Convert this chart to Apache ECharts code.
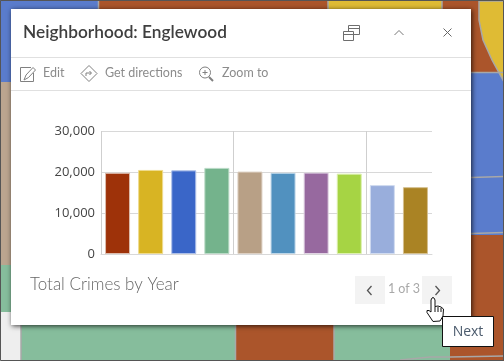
<!DOCTYPE html>
<html>
<head>
<meta charset="utf-8">
<title>Total Crimes by Year</title>
<script src="https://cdn.jsdelivr.net/npm/echarts@6/dist/echarts.min.js"></script>
<style>
  html, body { margin: 0; padding: 0; background: #fff; }
  #chart { width: 504px; height: 361px; }
</style>
</head>
<body>
<div id="chart"></div>
<script>
const categories = ['Year 1', 'Year 2', 'Year 3', 'Year 4', 'Year 5', 'Year 6', 'Year 7', 'Year 8', 'Year 9', 'Year 10']
const crimes = [19800, 20500, 20400, 21000, 20100, 19800, 19850, 19600, 16800, 16300]
const barColors = ['#9e3209', '#d8b423', '#3a66c8', '#74b38c', '#b8a086', '#5191bf', '#97699f', '#a6d444', '#99aedc', '#aa8324']
const barBorders = ['#dcbcae', '#efdb8c', '#adbfe8', '#b9dac6', '#dccfc2', '#bcd6e8', '#e0d2e3', '#dcf0ae', '#d0dbf0', '#d4bf8e']
const yTicks = [0, 10000, 20000, 30000]

const BLUE = '#5a7ccc', ORANGE = '#ab552b', YELLOW = '#dfbb34', GREEN = '#86bd9c', TAN = '#bba58f', EDGE = '#a8a8a8'

function box(x, y, width, height, fill, z) {
  return {type: 'rect', shape: {x, y, width, height}, style: {fill}, z: z}
}
function label(x, y, text, font, fill, align) {
  return {type: 'text', x, y, z: 20, style: {text, font, fill, align: align || 'left', verticalAlign: 'middle'}}
}
function stroke(points, color, width, z) {
  return {type: 'polyline', z: z || 20, shape: {points}, style: {fill: null, stroke: color, lineWidth: width || 1}}
}
function fillShape(points, fill, line, z) {
  return {type: 'polygon', z: z, shape: {points}, style: {fill, stroke: line, lineWidth: line === EDGE ? 1.5 : 1}}
}

// map behind the popup
const mapParts = [
  box(0, 0, 504, 361, GREEN, -30),
  box(0, 0, 98, 82, BLUE, -30),
  box(98, 0, 230, 30, ORANGE, -30),
  box(328, 0, 114, 30, YELLOW, -30),
  box(442, 0, 62, 73, ORANGE, -30),
  box(471, 73, 33, 162, BLUE, -30),
  box(471, 235, 33, 126, ORANGE, -30),
  box(0, 82, 11, 183, TAN, -30),
  box(0, 312, 21, 49, '#eeeeee', -30),
  box(235, 320, 99, 41, ORANGE, -30),
  box(450, 320, 54, 41, ORANGE, -30),
  fillShape([[479, 1], [479, 20], [483, 40], [492, 60], [503, 80], [504, 72], [504, 1]], YELLOW, EDGE, -29),
  stroke([[471, 72.5], [504, 72.5]], EDGE, 1.5, -28),
  stroke([[471, 177.5], [504, 176.5]], EDGE, 1.5, -28),
  stroke([[471, 233.5], [504, 232.5]], EDGE, 1.5, -28),
  stroke([[98.5, 0], [98.5, 9]], EDGE, 1.5, -28),
  stroke([[328, 0], [328, 9]], EDGE, 1.5, -28),
  stroke([[442, 0], [442, 9]], EDGE, 1.5, -28),
  stroke([[21, 325], [21, 361]], EDGE, 1.5, -28),
  stroke([[235.5, 325], [235.5, 361]], EDGE, 1.5, -28),
  stroke([[334, 325], [334, 361]], EDGE, 1.5, -28),
  stroke([[400, 360], [430, 357], [450, 357], [504, 356]], EDGE, 1.5, -28)
]

const popup = [
  {type: 'rect', z: -10, shape: {x: 11, y: 9, width: 460, height: 316},
    style: {fill: '#fff', shadowBlur: 5, shadowColor: 'rgba(0,0,0,0.75)', shadowOffsetX: 1, shadowOffsetY: 1}},
  box(11, 57, 460, 1, '#e0e0e0', -9),
  box(11, 90, 460, 1, '#e0e0e0', -9),
  label(23, 32, 'Neighborhood: Englewood', '600 17.3px Lato', '#3f3f3f'),
  // header icons
  stroke([[348.5, 32], [348.5, 25.5], [359.5, 25.5], [359.5, 34.5], [353.5, 34.5]], '#6e6e6e'),
  stroke([[348.5, 28.5], [359.5, 28.5]], '#6e6e6e'),
  stroke([[343.5, 31.5], [353.5, 31.5], [353.5, 40.5], [343.5, 40.5], [343.5, 31.5]], '#6e6e6e'),
  stroke([[343.5, 34.5], [353.5, 34.5]], '#6e6e6e'),
  stroke([[394.5, 35], [399, 30.5], [403.5, 35]], '#777'),
  stroke([[443.5, 28.5], [451.5, 36.5]], '#666'),
  stroke([[451.5, 28.5], [443.5, 36.5]], '#666'),
  // toolbar
  stroke([[31, 67.5], [20.5, 67.5], [20.5, 81.5], [33.5, 81.5], [33.5, 73]], '#808080'),
  stroke([[24, 80], [26, 75], [33, 67.5], [35.5, 70], [28.5, 77.5], [24, 80]], '#808080'),
  label(43, 73, 'Edit', '12.5px Lato', '#8c8c8c'),
  stroke([[89, 65.5], [97, 73.5], [89, 81.5], [81, 73.5], [89, 65.5]], '#808080'),
  stroke([[86, 76], [86, 73], [91, 73]], '#808080'),
  stroke([[89.5, 71], [91.5, 73], [89.5, 75]], '#808080'),
  label(105, 73, 'Get directions', '12.5px Lato', '#8c8c8c'),
  {type: 'circle', z: 20, shape: {cx: 205, cy: 72.5, r: 5.5}, style: {fill: null, stroke: '#808080'}},
  stroke([[202.5, 72.5], [207.5, 72.5]], '#808080'),
  stroke([[205, 70], [205, 75]], '#808080'),
  stroke([[209, 77], [213, 81]], '#808080', 2),
  label(222, 73, 'Zoom to', '12.5px Lato', '#8c8c8c'),
  // footer
  label(30, 285, 'Total Crimes by Year', '300 17px Lato', '#666666'),
  box(355, 276, 30, 28, '#f3f3f3', -9),
  box(422, 276, 30, 28, '#f3f3f3', -9),
  stroke([[371.5, 286], [367.5, 290.5], [371.5, 295]], '#555', 1.3),
  stroke([[435.5, 286], [439.5, 290.5], [435.5, 295]], '#555', 1.3),
  label(404, 289, '1 of 3', '12.5px Lato', '#a8a8a8', 'center')
]

const handOutline = [[431, 312], [431, 300], [432, 298], [433, 297.5], [434, 298], [435, 300], [435, 306.5], [438, 306], [441, 307], [443.5, 309], [443, 316], [440, 321], [433, 321.5], [430, 317], [427, 312.5], [427, 310.5], [429, 310.5]]

const overlay = [
  {type: 'rect', z: 30, shape: {x: 442.5, y: 316.5, width: 51, height: 30}, style: {fill: '#fff', stroke: '#111', lineWidth: 1}},
  {type: 'text', x: 468, y: 332, z: 31, style: {text: 'Next', font: '14px "Open Sans"', fill: '#4a5a6c', align: 'center', verticalAlign: 'middle'}},
  fillShape(handOutline, '#fff', '#111', 32),
  stroke([[435, 306.5], [435, 312]], '#111', 1, 33),
  stroke([[438, 307], [438, 312]], '#111', 1, 33),
  stroke([[441, 308], [441, 312]], '#111', 1, 33),
  {type: 'rect', z: 40, shape: {x: 0.5, y: 0.5, width: 503, height: 360}, style: {fill: null, stroke: '#555', lineWidth: 1}}
]

const chart = echarts.init(document.getElementById('chart'), null, {renderer: 'canvas'})
chart.setOption({
  animation: false,
  grid: {left: 101, right: 72, top: 131, bottom: 107},
  graphic: {elements: mapParts.concat(popup, overlay)},
  xAxis: {
    type: 'category',
    data: categories,
    axisLabel: {show: false},
    axisTick: {show: false},
    axisLine: {show: true, lineStyle: {color: '#d8d8d8'}},
    splitLine: {show: true, showMaxLine: false, interval: i => i % 4 === 0, lineStyle: {color: '#cfcfcf'}}
  },
  yAxis: {
    type: 'value',
    min: yTicks[0],
    max: yTicks[yTicks.length - 1],
    interval: yTicks[1] - yTicks[0],
    axisLine: {show: false},
    axisTick: {show: false},
    axisLabel: {
      margin: 6,
      color: '#444',
      fontFamily: 'Open Sans',
      fontSize: 13,
      formatter: v => v.toLocaleString('en-US')
    },
    splitLine: {lineStyle: {color: '#d8d8d8'}}
  },
  series: [{
    type: 'bar',
    barWidth: 25,
    data: crimes.map((value, i) => ({
      value,
      itemStyle: {color: barColors[i], borderColor: barBorders[i], borderWidth: 1}
    }))
  }]
})
</script>
</body>
</html>
